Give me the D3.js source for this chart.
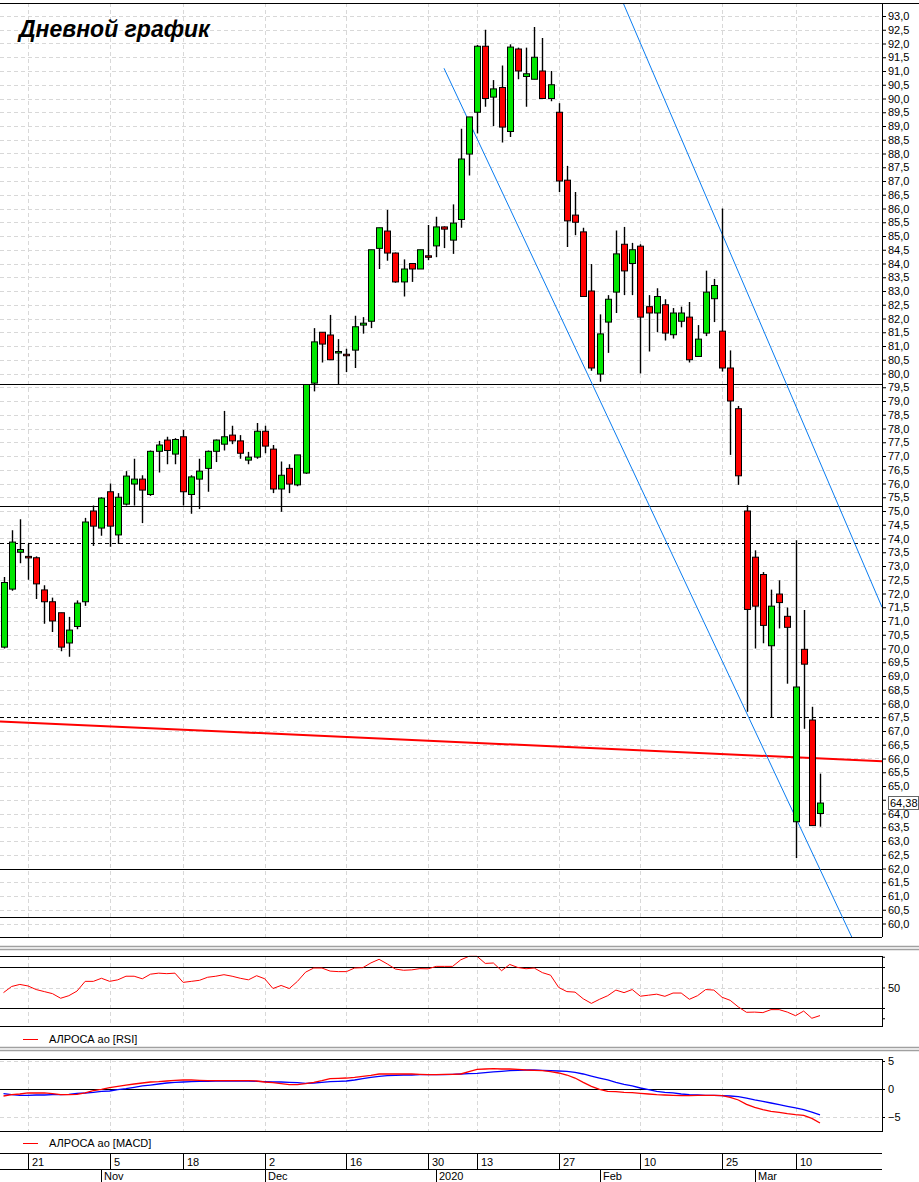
<!DOCTYPE html>
<html>
<head>
<meta charset="utf-8">
<title>АЛРОСА ао - Дневной график</title>
<style>
body, html { margin: 0; padding: 0; background: #fff; }
svg { display: block; font-family: "Liberation Sans", Arial, sans-serif; }
.ax text { font-size: 11px; fill: #000; }
</style>
<script src="https://d3js.org/d3.v7.min.js"></script>
</head>
<body>
<svg id="chart" width="919" height="1182"></svg>
<script>
// daily candles, index 0..100
var opens  = [70.05,72.16,73.5,73.35,73.3,72.13,71.7,71.3,70.2,70.8,71.7,75.0,74.38,75.7,74.13,75.25,75.98,76.16,75.6,77.17,77.58,77.07,77.7,75.6,76.16,76.55,77.17,77.43,77.76,77.55,76.85,76.96,77.9,77.25,75.8,76.55,75.95,76.38,79.65,81.5,81.4,80.75,80.7,80.85,81.76,81.9,84.55,85.18,84.38,83.33,84.0,83.8,84.28,84.64,85.33,84.85,85.6,87.98,89.5,91.9,90.05,90.4,88.8,91.8,90.8,90.7,91.0,90.0,89.5,87.03,85.76,85.15,83.0,79.98,81.87,82.96,84.7,84.0,84.63,82.43,82.2,82.5,81.41,81.9,82.05,80.62,81.47,82.72,81.54,80.2,78.72,75.0,73.32,72.69,70.1,71.98,71.17,63.7,69.97,67.4,64.0];
var highs  = [72.6,74.3,74.7,73.8,73.35,72.3,71.85,71.3,71.15,71.75,74.75,75.2,75.5,76.0,75.65,76.45,76.9,76.3,77.2,77.55,77.7,77.65,77.95,76.3,76.9,77.2,77.6,78.64,78.1,77.76,77.15,78.2,78.1,77.4,76.8,76.7,77.04,79.6,81.65,81.5,82.13,81.25,80.9,82.1,82.05,84.5,85.3,85.95,84.4,84.15,84.0,84.5,85.4,85.7,85.35,86.15,88.9,89.33,91.95,92.5,90.67,91.2,91.97,91.85,91.85,92.6,92.2,91.0,89.83,87.55,86.6,85.3,83.98,82.15,82.85,85.2,85.33,84.75,84.7,82.85,83.1,82.7,82.38,82.43,82.6,81.76,83.74,83.44,86.0,80.84,78.82,75.21,73.57,72.78,72.14,72.48,71.49,73.94,71.4,67.88,65.45];
var lows   = [70.0,72.1,73.1,72.5,71.8,70.9,70.6,69.9,69.7,70.7,71.55,73.73,74.1,73.7,73.8,75.2,75.2,74.56,75.55,76.4,76.7,76.7,75.2,74.9,75.07,75.7,76.78,77.2,77.43,76.9,76.7,76.9,77.1,75.65,74.97,75.65,75.9,76.35,79.35,80.4,80.5,79.6,80.05,80.2,81.45,81.65,83.8,84.1,83.3,82.8,83.33,83.8,84.12,84.23,84.56,84.35,85.3,87.2,88.73,89.7,89.0,88.4,88.6,90.7,89.7,90.7,90.0,89.9,86.6,84.6,85.03,82.8,80.1,79.7,80.75,82.2,82.85,82.85,80.0,80.8,81.5,81.2,81.27,81.68,80.4,80.6,81.36,81.87,80.07,77.04,75.95,67.7,70.0,70.19,67.49,70.73,68.72,62.38,67.08,63.56,63.52];
var closes = [72.4,73.87,73.6,73.3,72.35,71.7,71.0,70.05,70.67,71.65,74.6,74.45,75.47,74.45,75.5,76.27,76.16,75.76,77.17,77.4,77.2,77.6,75.7,76.24,76.45,77.17,77.58,77.7,77.55,77.1,76.96,77.9,77.36,75.8,76.3,75.98,77.04,79.6,81.15,81.07,80.5,80.8,80.65,81.7,81.83,84.5,85.3,84.38,83.33,83.8,83.8,84.5,84.26,85.33,85.25,85.47,87.8,89.33,91.9,90.0,90.35,88.96,91.87,91.0,90.9,91.5,90.0,90.5,87.0,85.55,85.5,82.8,80.2,81.44,82.7,84.35,83.73,84.5,82.05,82.2,82.8,81.47,82.2,82.2,80.5,81.25,82.96,83.2,80.2,79.0,76.28,71.42,71.54,70.84,71.54,71.67,70.77,68.6,69.43,63.56,64.38];

var rsi = [45,51,53,51.5,48,46,44,39.5,42,46.5,56,56,59,56,57.5,61,61,58.5,63,64,63.5,64,55,56,57,60,61,62.5,61,59,57.5,61.5,58.5,49,52,49,56,65,69,69,66,65.5,65.5,69,69.3,74,77.5,73,68,66.8,67.2,68.4,68.2,70.6,70.6,70.6,77,80.4,80.4,73.5,73.9,66.4,72.5,69.5,68.3,69,64.5,62,50,46,45.5,39,34.5,38.5,42,47.5,45,48,41.5,42.5,43.5,41.4,44.6,44.6,38.5,42,48,47.5,40.5,37.5,31,25.8,26,25.5,28.4,28.4,26,22.5,27,20,22.6];

var macd = [-1.25,-1.01,-0.89,-0.71,-0.71,-0.71,-0.83,-1.01,-1.01,-0.95,-0.71,-0.3,-0.06,0.24,0.48,0.71,0.89,1.07,1.25,1.31,1.43,1.55,1.61,1.61,1.55,1.49,1.49,1.49,1.49,1.49,1.49,1.43,1.25,1.13,0.95,0.77,0.77,0.95,1.19,1.49,1.85,1.9,1.96,2.08,2.26,2.44,2.68,2.68,2.68,2.68,2.68,2.62,2.56,2.56,2.62,2.62,2.68,3.1,3.51,3.57,3.63,3.57,3.57,3.51,3.39,3.33,3.27,3.1,2.86,2.5,1.96,1.19,0.48,-0.06,-0.42,-0.48,-0.6,-0.65,-0.77,-0.89,-1.01,-1.07,-1.13,-1.19,-1.19,-1.13,-1.13,-1.13,-1.19,-1.49,-1.96,-2.74,-3.27,-3.69,-3.99,-4.17,-4.4,-4.58,-4.7,-5.24,-6.07];
var signal = [-0.83,-1.01,-1.13,-1.13,-1.07,-1.07,-1.01,-1.01,-0.95,-0.77,-0.71,-0.6,-0.42,-0.36,-0.12,0.06,0.3,0.54,0.71,0.89,1.07,1.19,1.25,1.31,1.37,1.37,1.43,1.43,1.43,1.43,1.43,1.37,1.31,1.25,1.25,1.19,1.13,1.01,1.07,1.19,1.31,1.37,1.43,1.61,1.85,2.08,2.26,2.38,2.44,2.5,2.5,2.56,2.56,2.56,2.56,2.62,2.68,2.74,2.8,2.92,3.04,3.15,3.27,3.33,3.39,3.39,3.33,3.27,3.21,3.15,2.98,2.68,2.32,1.96,1.61,1.19,0.83,0.54,0.18,-0.12,-0.42,-0.6,-0.71,-0.89,-1.01,-1.07,-1.13,-1.13,-1.19,-1.25,-1.37,-1.61,-1.96,-2.2,-2.5,-2.8,-3.1,-3.39,-3.69,-4.11,-4.64];

var solidLevels = [79.62, 75.19, 62.0, 60.23];
var dashedLevels = [73.83, 67.5];
// trend lines as [index, price] end points
var redTrend = [[-0.43, 67.35], [107.6, 65.9]];
var blueChannel = [
  [[53.95, 91.1], [103.9, 59.5]],
  [[75.9, 93.47], [107.6, 71.5]]
];

var dayTicks = [[3,"21"],[13,"5"],[22,"18"],[32,"2"],[42,"16"],[52,"30"],[58,"13"],[68,"27"],[78,"10"],[88,"25"],[97,"10"]];
var monthTicks = [[12,"Nov"],[32,"Dec"],[53,"2020"],[73,"Feb"],[92,"Mar"]];
var lastPrice = 64.38;

var svg = d3.select("#chart");
var plotR = 882;
var x = d3.scaleLinear().domain([0, 1]).range([3.5, 11.665]);
var y = d3.scaleLinear().domain([60, 93]).range([923.5, 16]);
var yR = d3.scaleLinear().domain([30, 70]).range([1008, 967]);
var yM = d3.scaleLinear().domain([-5, 5]).range([1117, 1061]);
var idx = d3.range(opens.length);
var fmt = function(v) { return d3.format(".1f")(v).replace(".", ","); };
var grid = "#d8d8d8";

function vgrid(top, bottom) {
  svg.append("g").selectAll("line").data(dayTicks).join("line")
    .attr("x1", d => Math.round(x(d[0])) + 0.5).attr("x2", d => Math.round(x(d[0])) + 0.5)
    .attr("y1", top).attr("y2", bottom)
    .attr("stroke", grid).attr("stroke-dasharray", "4,3");
}

// ---- price panel
svg.append("clipPath").attr("id", "pc").append("rect")
  .attr("x", 0).attr("y", 3).attr("width", plotR).attr("height", 934);
var priceTicks = d3.range(60, 93.01, 0.5);
svg.append("g").selectAll("line").data(priceTicks).join("line")
  .attr("x1", 0).attr("x2", plotR)
  .attr("y1", d => Math.round(y(d)) + 0.5).attr("y2", d => Math.round(y(d)) + 0.5)
  .attr("stroke", grid).attr("stroke-dasharray", "4,3");
vgrid(3, 937);

svg.append("text").attr("x", 19).attr("y", 37)
  .attr("font-size", 23).attr("font-weight", "bold").attr("font-style", "italic")
  .text("Дневной график");

svg.append("g").selectAll("line").data(solidLevels).join("line")
  .attr("x1", 0).attr("x2", plotR)
  .attr("y1", d => Math.round(y(d)) + 0.5).attr("y2", d => Math.round(y(d)) + 0.5)
  .attr("stroke", "#000");
svg.append("g").selectAll("line").data(dashedLevels).join("line")
  .attr("x1", 0).attr("x2", plotR)
  .attr("y1", d => Math.round(y(d)) + 0.5).attr("y2", d => Math.round(y(d)) + 0.5)
  .attr("stroke", "#000").attr("stroke-dasharray", "4,3");

var lineXY = d3.line().x(d => x(d[0])).y(d => y(d[1]));
var tl = svg.append("g").attr("clip-path", "url(#pc)");
tl.append("path").datum(redTrend).attr("d", lineXY)
  .attr("fill", "none").attr("stroke", "#ff0000").attr("stroke-width", 2);
tl.selectAll(".ch").data(blueChannel).join("path").attr("class", "ch").attr("d", lineXY)
  .attr("fill", "none").attr("stroke", "#0a7cf0").attr("stroke-width", 1);

var cg = svg.append("g").attr("clip-path", "url(#pc)");
cg.selectAll(".wick").data(idx).join("line").attr("class", "wick")
  .attr("x1", i => Math.round(x(i)) + 0.5).attr("x2", i => Math.round(x(i)) + 0.5)
  .attr("y1", i => y(highs[i])).attr("y2", i => y(lows[i]))
  .attr("stroke", "#000").attr("stroke-width", 1.4);
cg.selectAll(".body").data(idx).join("rect").attr("class", "body")
  .attr("x", i => Math.round(x(i)) - 2.5).attr("width", 6)
  .attr("y", i => y(Math.max(opens[i], closes[i])))
  .attr("height", i => Math.max(1.5, Math.abs(y(opens[i]) - y(closes[i]))))
  .attr("fill", i => closes[i] >= opens[i] ? "#00e600" : "#ff0000")
  .attr("stroke", "#000").attr("stroke-width", 1);

// price axis (label hidden behind the last-price box)
var pa = svg.append("g").attr("class", "ax").attr("transform", "translate(" + plotR + ",0)")
  .call(d3.axisRight(y).tickValues(priceTicks).tickSize(4)
    .tickFormat(d => Math.abs(d - 64.5) < 0.01 ? "" : fmt(d)));
pa.select(".domain").remove();
pa.selectAll("text").attr("x", 6);
svg.append("line").attr("x1", plotR + 0.5).attr("x2", plotR + 0.5).attr("y1", 3).attr("y2", 937).attr("stroke", "#000");
svg.append("line").attr("x1", 0).attr("x2", 919).attr("y1", 3.5).attr("y2", 3.5).attr("stroke", "#000");
svg.append("line").attr("x1", 0).attr("x2", plotR).attr("y1", 937.5).attr("y2", 937.5).attr("stroke", "#000");
svg.append("rect").attr("x", 888.5).attr("y", Math.round(y(lastPrice)) - 6.5).attr("width", 30).attr("height", 13)
  .attr("fill", "#fff").attr("stroke", "#666");
svg.append("text").attr("x", 890).attr("y", y(lastPrice) + 4).attr("font-size", 11)
  .text(d3.format(".2f")(lastPrice).replace(".", ","));

// separators
[946, 949, 1047, 1050].forEach(function(v) {
  svg.append("line").attr("x1", 0).attr("x2", 919).attr("y1", v + 0.5).attr("y2", v + 0.5)
    .attr("stroke", "#a0a0a0").attr("stroke-width", 1.5);
});

// ---- RSI panel
vgrid(956, 1026);
svg.append("line").attr("x1", 0).attr("x2", plotR).attr("y1", Math.round(yR(50)) + 0.5).attr("y2", Math.round(yR(50)) + 0.5)
  .attr("stroke", grid).attr("stroke-dasharray", "4,3");
[70, 30].forEach(function(v) {
  svg.append("line").attr("x1", 0).attr("x2", plotR).attr("y1", Math.round(yR(v)) + 0.5).attr("y2", Math.round(yR(v)) + 0.5).attr("stroke", "#000");
});
svg.append("path").datum(rsi)
  .attr("d", d3.line().x((d, i) => x(i)).y(d => yR(d)))
  .attr("fill", "none").attr("stroke", "#ff0000");
svg.append("rect").attr("x", -1).attr("y", 956.5).attr("width", plotR + 1.5).attr("height", 70).attr("fill", "none").attr("stroke", "#000");
var ra = svg.append("g").attr("class", "ax").attr("transform", "translate(" + plotR + ",0)")
  .call(d3.axisRight(yR).tickValues([80, 70, 50, 30, 20]).tickSize(3).tickFormat(d => d === 50 ? "50" : ""));
ra.select(".domain").remove();
ra.selectAll("text").attr("x", 6);
svg.append("line").attr("x1", 23).attr("x2", 38).attr("y1", 1039.5).attr("y2", 1039.5).attr("stroke", "#ff0000");
svg.append("text").attr("x", 49).attr("y", 1043).attr("font-size", 11).text("АЛРОСА ао [RSI]");

// ---- MACD panel
vgrid(1059, 1131);
[-5, 5].forEach(function(v) {
  svg.append("line").attr("x1", 0).attr("x2", plotR).attr("y1", Math.round(yM(v)) + 0.5).attr("y2", Math.round(yM(v)) + 0.5)
    .attr("stroke", grid).attr("stroke-dasharray", "4,3");
});
svg.append("line").attr("x1", 0).attr("x2", plotR).attr("y1", Math.round(yM(0)) + 0.5).attr("y2", Math.round(yM(0)) + 0.5).attr("stroke", "#000");
var mline = d3.line().x((d, i) => x(i)).y(d => yM(d));
svg.append("path").datum(signal).attr("d", mline).attr("fill", "none").attr("stroke", "#0000ff").attr("stroke-width", 1.3);
svg.append("path").datum(macd).attr("d", mline).attr("fill", "none").attr("stroke", "#ff0000").attr("stroke-width", 1.3);
svg.append("rect").attr("x", -1).attr("y", 1059.5).attr("width", plotR + 1.5).attr("height", 72).attr("fill", "none").attr("stroke", "#000");
var ma = svg.append("g").attr("class", "ax").attr("transform", "translate(" + plotR + ",0)")
  .call(d3.axisRight(yM).tickValues([5, 0, -5]).tickSize(3).tickFormat(d3.format("d")));
ma.select(".domain").remove();
ma.selectAll("text").attr("x", 6);
svg.append("line").attr("x1", 23).attr("x2", 38).attr("y1", 1143.5).attr("y2", 1143.5).attr("stroke", "#ff0000");
svg.append("text").attr("x", 49).attr("y", 1147).attr("font-size", 11).text("АЛРОСА ао [MACD]");

// ---- date axis
[1153, 1169].forEach(function(v) {
  svg.append("line").attr("x1", 0).attr("x2", plotR).attr("y1", v + 0.5).attr("y2", v + 0.5).attr("stroke", "#000");
});
var dg = svg.append("g").attr("class", "ax");
dg.selectAll(".dt").data(dayTicks).join("line").attr("class", "dt")
  .attr("x1", d => Math.round(x(d[0])) + 0.5).attr("x2", d => Math.round(x(d[0])) + 0.5)
  .attr("y1", 1153).attr("y2", 1169).attr("stroke", "#000");
dg.selectAll(".dl").data(dayTicks).join("text").attr("class", "dl")
  .attr("x", d => Math.round(x(d[0])) + 4).attr("y", 1166).text(d => d[1]);
dg.selectAll(".mt").data(monthTicks).join("line").attr("class", "mt")
  .attr("x1", d => Math.round(x(d[0])) + 0.5).attr("x2", d => Math.round(x(d[0])) + 0.5)
  .attr("y1", 1169).attr("y2", 1182).attr("stroke", "#000");
dg.selectAll(".ml").data(monthTicks).join("text").attr("class", "ml")
  .attr("x", d => Math.round(x(d[0])) + 3).attr("y", 1180).text(d => d[1]);
</script>
</body>
</html>
